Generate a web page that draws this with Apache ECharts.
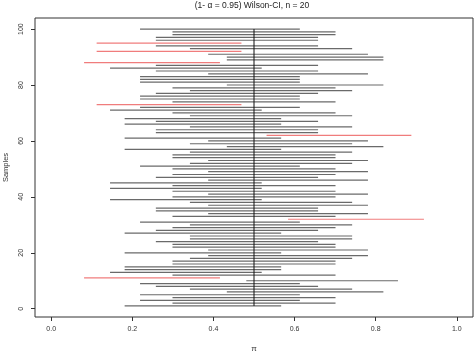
<!DOCTYPE html>
<html>
<head>
<meta charset="utf-8">
<script src="https://cdn.jsdelivr.net/npm/echarts@6/dist/echarts.min.js"></script>
<style>
html,body{margin:0;padding:0;background:#fff;overflow:hidden;}
#chart{width:474px;height:353px;}
</style>
</head>
<body>
<div id="chart"></div>
<script>
// Wilson CI bounds for samples 1..100
const lower = [
  0.181,0.299,0.219,0.299,0.219,0.433,0.342,0.258,0.219,0.481,
  0.081,0.299,0.145,0.181,0.181,0.299,0.299,0.342,0.387,0.181,
  0.387,0.299,0.299,0.258,0.342,0.342,0.181,0.258,0.299,0.342,
  0.219,0.584,0.299,0.387,0.258,0.258,0.387,0.342,0.145,0.299,
  0.387,0.299,0.145,0.299,0.145,0.387,0.258,0.299,0.387,0.299,
  0.219,0.342,0.387,0.299,0.299,0.342,0.181,0.433,0.342,0.387,
  0.181,0.531,0.258,0.258,0.342,0.181,0.258,0.181,0.342,0.299,
  0.145,0.219,0.112,0.299,0.219,0.219,0.258,0.342,0.299,0.433,
  0.219,0.219,0.219,0.387,0.258,0.145,0.258,0.081,0.433,0.433,
  0.387,0.112,0.342,0.258,0.112,0.258,0.258,0.299,0.299,0.219
];
const upper = [
  0.567,0.701,0.613,0.701,0.613,0.819,0.742,0.658,0.613,0.855,
  0.416,0.701,0.519,0.567,0.567,0.701,0.701,0.742,0.781,0.567,
  0.781,0.701,0.701,0.658,0.742,0.742,0.567,0.658,0.701,0.742,
  0.613,0.919,0.701,0.781,0.658,0.658,0.781,0.742,0.519,0.701,
  0.781,0.701,0.519,0.701,0.519,0.781,0.658,0.701,0.781,0.701,
  0.613,0.742,0.781,0.701,0.701,0.742,0.567,0.819,0.742,0.781,
  0.567,0.888,0.658,0.658,0.742,0.567,0.658,0.567,0.742,0.701,
  0.519,0.613,0.469,0.701,0.613,0.613,0.658,0.742,0.701,0.819,
  0.613,0.613,0.613,0.781,0.658,0.519,0.658,0.416,0.819,0.819,
  0.781,0.469,0.742,0.658,0.469,0.658,0.658,0.701,0.701,0.613
];
const truePi = 0.5;
const xTicks = [0, 0.2, 0.4, 0.6, 0.8, 1.0];
const yTicks = [0, 20, 40, 60, 80, 100];
const titleText = '(1- \u03b1 = 0.95) Wilson-CI, n = 20';

const segs = lower.map((lo, k) => [lo, upper[k], k + 1, (lo > truePi || upper[k] < truePi) ? 1 : 0]);

const FONT = '"Liberation Sans", Arial, sans-serif';
const chart = echarts.init(document.getElementById('chart'), null, {renderer: 'canvas', width: 474, height: 353});
chart.setOption({
  animation: false,
  backgroundColor: '#fff',
  grid: {left: 35, top: 18, width: 438, height: 299, outerBoundsMode: 'none', containLabel: false,
    show: true, borderColor: '#333', borderWidth: 1, backgroundColor: 'transparent'},
  xAxis: {
    type: 'value', min: -0.04, max: 1.04,
    name: '\u03c0', nameLocation: 'middle', nameGap: 28,
    nameTextStyle: {fontFamily: FONT, fontSize: 8, color: '#333'},
    axisLine: {show: false, onZero: false},
    splitLine: {show: false},
    axisTick: {show: true, length: 4, lineStyle: {color: '#333'}, customValues: xTicks},
    axisLabel: {customValues: xTicks, margin: 9, fontFamily: FONT, fontSize: 7, color: '#333',
      formatter: v => v.toFixed(1)}
  },
  yAxis: {
    type: 'value', min: -2.96, max: 103.96,
    name: 'Samples', nameLocation: 'middle', nameGap: 22,
    nameTextStyle: {fontFamily: FONT, fontSize: 7.5, color: '#333'},
    axisLine: {show: false, onZero: false},
    splitLine: {show: false},
    axisTick: {show: true, length: 4, lineStyle: {color: '#333'}, customValues: yTicks},
    axisLabel: {customValues: yTicks, rotate: 90, margin: 10, fontFamily: FONT, fontSize: 7, color: '#333'}
  },
  graphic: [{
    type: 'text', x: 252, y: 6,
    style: {text: titleText, textAlign: 'center', textVerticalAlign: 'middle', font: '8.5px ' + FONT, fill: '#222'}
  }],
  series: [{
    type: 'custom',
    data: segs,
    encode: {x: [0, 1], y: 2},
    renderItem: function (params, api) {
      const p1 = api.coord([api.value(0), api.value(2)]);
      const p2 = api.coord([api.value(1), api.value(2)]);
      const miss = api.value(3) === 1;
      return {
        type: 'line',
        shape: {x1: p1[0], y1: p1[1], x2: p2[0], y2: p2[1]},
        style: {stroke: miss ? '#f07c7c' : '#6a6a6a', lineWidth: 1.2}
      };
    }
  }, {
    type: 'line',
    data: [[truePi, 1], [truePi, 100]],
    symbol: 'none',
    lineStyle: {color: '#111', width: 1},
    z: 5
  }]
});
</script>
</body>
</html>
